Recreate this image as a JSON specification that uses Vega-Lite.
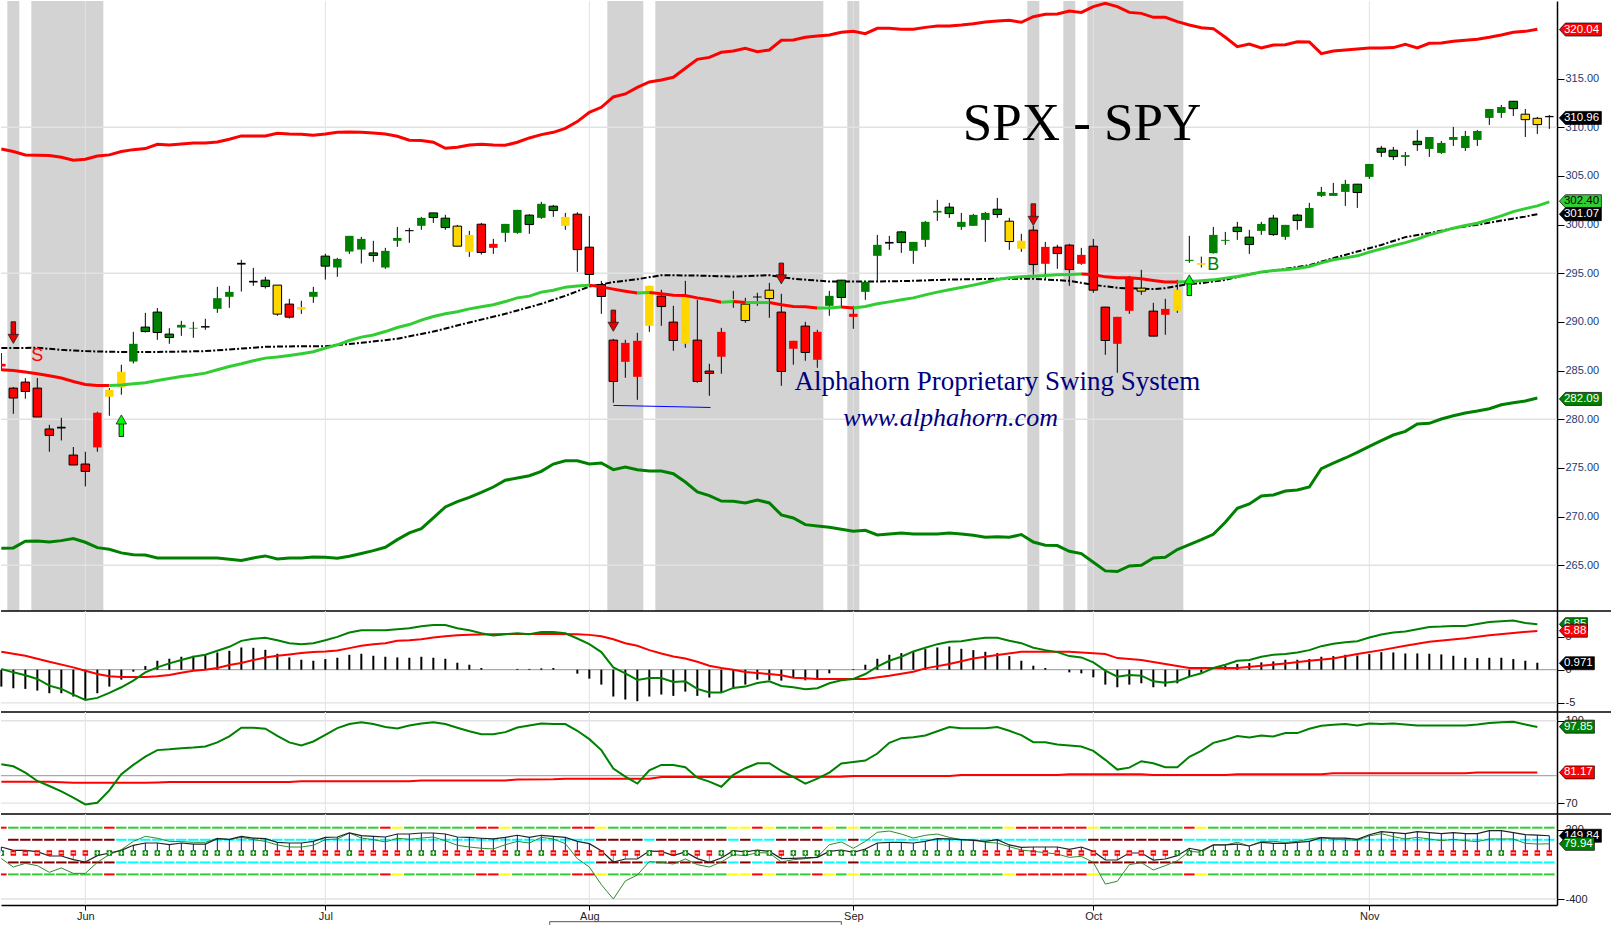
{"$schema":"https://vega.github.io/schema/vega-lite/v6.json","padding":0,"autosize":{"type":"pad"},"background":"white","bounds":"flush","spacing":0,
"config":{"view":{"stroke":null},"text":{"font":"Liberation Sans"},"axis":{"labelFont":"Liberation Sans"}},
"datasets":{
"months":[{"i":7},{"i":27},{"i":49},{"i":71},{"i":91},{"i":114}],
"bands":[{"i":0.5,"i2":1.5},{"i":2.5,"i2":8.5},{"i":50.5,"i2":53.5},{"i":54.5,"i2":68.5},{"i":70.5,"i2":71.5},{"i":85.5,"i2":86.5},{"i":88.5,"i2":89.5},{"i":90.5,"i2":98.5}],
"tags":[{"p":"a","i":129.84,"tx":130.22,"v":320.04,"label":"320.04","kind":"red","w":"6"},{"p":"a","i":129.84,"tx":130.22,"v":310.96,"label":"310.96","kind":"black","w":"6"},{"p":"a","i":129.84,"tx":130.22,"v":302.4,"label":"302.40","kind":"lime","w":"6"},{"p":"a","i":129.84,"tx":130.22,"v":301.07,"label":"301.07","kind":"black","w":"6"},{"p":"a","i":129.84,"tx":130.22,"v":282.09,"label":"282.09","kind":"green","w":"6"},{"p":"b1","i":129.84,"tx":130.22,"v":6.85,"label":"6.85","kind":"green","w":"4"},{"p":"b2","i":129.84,"tx":130.22,"v":5.88,"label":"5.88","kind":"red","w":"4"},{"p":"b2","i":129.84,"tx":130.22,"v":0.971,"label":"0.971","kind":"black","w":"5"},{"p":"c","i":129.84,"tx":130.22,"v":97.85,"label":"97.85","kind":"green","w":"5"},{"p":"c","i":129.84,"tx":130.22,"v":81.17,"label":"81.17","kind":"red","w":"5"},{"p":"d1","i":129.84,"tx":130.22,"v":149.84,"label":"149.84","kind":"black","w":"6"},{"p":"d2","i":129.84,"tx":130.22,"v":79.94,"label":"79.94","kind":"green","w":"5"}],
"arrows":[{"i":1,"tail":290.01,"head":288.26,"dir":"down"},{"i":51,"tail":291.21,"head":289.5,"dir":"down"},{"i":65,"tail":296.04,"head":294.37,"dir":"down"},{"i":86,"tail":302.13,"head":300.38,"dir":"down"},{"i":10,"tail":278.23,"head":279.98,"dir":"up"},{"i":99,"tail":292.71,"head":294.37,"dir":"up"}],
"candles":[
{"i":0,"t":285.7,"b":285.42,"h":286.8,"l":284.98,"c":"r","e":"n","u":307.77,"d":266.74},
{"i":1,"t":283.2,"b":282.18,"h":283.31,"l":280.56,"c":"r","e":"y","u":307.5,"d":266.78},
{"i":2,"t":283.82,"b":282.85,"h":284.23,"l":282.11,"c":"r","e":"y","u":307.16,"d":267.46},
{"i":3,"t":283.2,"b":280.23,"h":284.23,"l":280.23,"c":"r","e":"y","u":307.12,"d":267.5},
{"i":4,"t":279.0,"b":278.34,"h":279.43,"l":276.66,"c":"r","e":"y","u":307.09,"d":267.39},
{"i":5,"t":279.23,"b":279.05,"h":280.15,"l":277.82,"c":"k","e":"n","u":306.92,"d":267.53},
{"i":6,"t":276.32,"b":275.3,"h":277.15,"l":275.3,"c":"r","e":"y","u":306.61,"d":267.74},
{"i":7,"t":275.4,"b":274.64,"h":276.66,"l":273.1,"c":"r","e":"y","u":306.71,"d":267.36},
{"i":8,"t":280.67,"b":277.11,"h":280.77,"l":276.66,"c":"r","e":"n","u":307.05,"d":266.81},
{"i":9,"t":283.03,"b":282.31,"h":283.2,"l":280.36,"c":"y","e":"n","u":307.16,"d":266.64},
{"i":10,"t":284.88,"b":283.27,"h":285.6,"l":282.52,"c":"y","e":"n","u":307.5,"d":266.27},
{"i":11,"t":287.75,"b":285.93,"h":288.98,"l":285.73,"c":"g","e":"n","u":307.7,"d":266.09},
{"i":12,"t":289.47,"b":289.01,"h":290.93,"l":288.91,"c":"g","e":"y","u":307.81,"d":266.06},
{"i":13,"t":291.01,"b":288.91,"h":291.42,"l":288.16,"c":"g","e":"y","u":308.25,"d":265.75},
{"i":14,"t":288.75,"b":288.4,"h":289.36,"l":287.75,"c":"g","e":"y","u":308.18,"d":265.75},
{"i":15,"t":289.7,"b":289.42,"h":290.11,"l":288.57,"c":"g","e":"n","u":308.29,"d":265.75},
{"i":16,"t":289.39,"b":289.32,"h":290.01,"l":288.37,"c":"g","e":"n","u":308.39,"d":265.75},
{"i":17,"t":289.57,"b":289.42,"h":290.32,"l":289.19,"c":"k","e":"n","u":308.39,"d":265.75},
{"i":18,"t":292.44,"b":291.34,"h":293.6,"l":290.93,"c":"g","e":"n","u":308.49,"d":265.75},
{"i":19,"t":293.09,"b":292.58,"h":293.71,"l":291.45,"c":"g","e":"n","u":308.77,"d":265.62},
{"i":20,"t":296.07,"b":295.89,"h":296.38,"l":293.12,"c":"k","e":"n","u":309.11,"d":265.48},
{"i":21,"t":294.22,"b":294.05,"h":295.55,"l":293.71,"c":"k","e":"n","u":309.11,"d":265.75},
{"i":22,"t":294.29,"b":293.63,"h":294.63,"l":293.43,"c":"g","e":"y","u":309.11,"d":265.96},
{"i":23,"t":293.78,"b":290.8,"h":293.78,"l":290.63,"c":"y","e":"y","u":309.38,"d":265.65},
{"i":24,"t":291.83,"b":290.49,"h":292.37,"l":290.35,"c":"r","e":"y","u":309.31,"d":265.75},
{"i":25,"t":291.52,"b":291.27,"h":292.17,"l":290.83,"c":"y","e":"n","u":309.28,"d":265.75},
{"i":26,"t":293.09,"b":292.58,"h":293.6,"l":291.96,"c":"g","e":"n","u":309.18,"d":265.85},
{"i":27,"t":296.76,"b":295.73,"h":297.0,"l":294.35,"c":"g","e":"y","u":309.31,"d":265.82},
{"i":28,"t":296.48,"b":295.59,"h":296.58,"l":294.63,"c":"g","e":"n","u":309.48,"d":265.72},
{"i":29,"t":298.84,"b":297.23,"h":298.84,"l":296.99,"c":"g","e":"n","u":309.52,"d":265.92},
{"i":30,"t":298.53,"b":297.43,"h":298.74,"l":296.0,"c":"g","e":"n","u":309.48,"d":266.2},
{"i":31,"t":297.09,"b":296.82,"h":298.33,"l":296.17,"c":"g","e":"y","u":309.42,"d":266.5},
{"i":32,"t":297.3,"b":295.59,"h":297.61,"l":295.45,"c":"g","e":"n","u":309.31,"d":266.85},
{"i":33,"t":298.63,"b":298.33,"h":299.76,"l":297.71,"c":"g","e":"n","u":309.07,"d":267.63},
{"i":34,"t":299.43,"b":299.32,"h":299.66,"l":298.12,"c":"k","e":"n","u":308.66,"d":268.32},
{"i":35,"t":300.69,"b":299.87,"h":300.79,"l":299.46,"c":"g","e":"n","u":308.63,"d":268.76},
{"i":36,"t":301.2,"b":300.72,"h":301.2,"l":300.17,"c":"g","e":"y","u":308.46,"d":269.86},
{"i":37,"t":300.66,"b":299.69,"h":301.0,"l":299.46,"c":"g","e":"y","u":307.84,"d":270.99},
{"i":38,"t":299.84,"b":297.78,"h":299.97,"l":297.78,"c":"y","e":"y","u":307.94,"d":271.54},
{"i":39,"t":298.94,"b":297.2,"h":299.35,"l":296.68,"c":"y","e":"n","u":308.18,"d":271.98},
{"i":40,"t":300.04,"b":297.13,"h":300.17,"l":296.92,"c":"r","e":"y","u":308.25,"d":272.49},
{"i":41,"t":298.02,"b":297.61,"h":298.53,"l":296.99,"c":"r","e":"n","u":308.18,"d":273.04},
{"i":42,"t":300.07,"b":299.15,"h":300.07,"l":298.22,"c":"g","e":"n","u":308.15,"d":273.73},
{"i":43,"t":301.51,"b":299.15,"h":301.51,"l":299.05,"c":"g","e":"n","u":308.46,"d":273.97},
{"i":44,"t":300.97,"b":300.0,"h":301.07,"l":299.05,"c":"g","e":"y","u":308.9,"d":274.2},
{"i":45,"t":302.13,"b":300.69,"h":302.33,"l":300.59,"c":"g","e":"n","u":309.24,"d":274.65},
{"i":46,"t":301.89,"b":301.44,"h":302.02,"l":300.79,"c":"g","e":"y","u":309.48,"d":275.4},
{"i":47,"t":300.79,"b":299.87,"h":301.2,"l":299.46,"c":"y","e":"n","u":309.89,"d":275.74},
{"i":48,"t":301.07,"b":297.43,"h":301.27,"l":295.14,"c":"r","e":"y","u":310.58,"d":275.74},
{"i":49,"t":297.68,"b":294.87,"h":300.89,"l":293.91,"c":"r","e":"y","u":311.54,"d":275.4},
{"i":50,"t":293.84,"b":292.61,"h":294.22,"l":290.83,"c":"r","e":"y","u":312.05,"d":275.5},
{"i":51,"t":288.13,"b":283.88,"h":288.26,"l":281.69,"c":"r","e":"y","u":313.11,"d":274.82},
{"i":52,"t":287.85,"b":285.9,"h":288.16,"l":284.26,"c":"r","e":"n","u":313.42,"d":275.09},
{"i":53,"t":288.06,"b":284.36,"h":288.88,"l":282.0,"c":"r","e":"n","u":314.1,"d":274.82},
{"i":54,"t":293.71,"b":289.6,"h":293.71,"l":288.98,"c":"y","e":"n","u":314.65,"d":274.68},
{"i":55,"t":292.65,"b":291.58,"h":293.3,"l":289.6,"c":"r","e":"y","u":314.86,"d":274.68},
{"i":56,"t":289.98,"b":288.09,"h":291.65,"l":287.03,"c":"r","e":"y","u":315.13,"d":274.41},
{"i":57,"t":292.58,"b":287.75,"h":294.22,"l":287.34,"c":"y","e":"n","u":316.06,"d":273.55},
{"i":58,"t":288.13,"b":283.88,"h":292.27,"l":283.75,"c":"r","e":"y","u":316.98,"d":272.53},
{"i":59,"t":284.95,"b":284.7,"h":285.7,"l":282.41,"c":"r","e":"y","u":317.18,"d":272.15},
{"i":60,"t":288.98,"b":286.42,"h":289.39,"l":284.67,"c":"r","e":"n","u":317.7,"d":271.6},
{"i":61,"t":292.34,"b":292.17,"h":293.19,"l":291.45,"c":"y","e":"n","u":317.83,"d":271.57},
{"i":62,"t":291.83,"b":290.14,"h":292.47,"l":289.91,"c":"y","e":"y","u":318.11,"d":271.4},
{"i":63,"t":292.61,"b":292.51,"h":292.99,"l":291.65,"c":"k","e":"n","u":317.77,"d":271.71},
{"i":64,"t":293.26,"b":292.4,"h":294.01,"l":290.42,"c":"y","e":"y","u":317.94,"d":271.4},
{"i":65,"t":291.01,"b":284.91,"h":292.89,"l":283.44,"c":"r","e":"y","u":318.93,"d":270.17},
{"i":66,"t":288.06,"b":287.24,"h":288.06,"l":285.6,"c":"r","e":"n","u":318.96,"d":269.86},
{"i":67,"t":289.57,"b":286.86,"h":290.01,"l":286.01,"c":"r","e":"y","u":319.24,"d":269.17},
{"i":68,"t":288.98,"b":286.11,"h":289.19,"l":285.29,"c":"r","e":"n","u":319.37,"d":269.04},
{"i":69,"t":292.68,"b":291.65,"h":293.19,"l":290.63,"c":"g","e":"n","u":319.48,"d":268.9},
{"i":70,"t":294.29,"b":292.51,"h":294.32,"l":291.45,"c":"g","e":"y","u":319.75,"d":268.7},
{"i":71,"t":290.83,"b":290.52,"h":291.65,"l":289.29,"c":"r","e":"n","u":319.85,"d":268.49},
{"i":72,"t":294.12,"b":293.09,"h":294.12,"l":292.27,"c":"g","e":"n","u":319.61,"d":268.59},
{"i":73,"t":297.92,"b":296.79,"h":298.94,"l":294.12,"c":"g","e":"n","u":320.16,"d":268.11},
{"i":74,"t":298.22,"b":298.05,"h":298.84,"l":297.4,"c":"k","e":"n","u":320.16,"d":268.22},
{"i":75,"t":299.25,"b":298.15,"h":299.35,"l":297.09,"c":"g","e":"y","u":320.06,"d":268.32},
{"i":76,"t":298.22,"b":297.3,"h":298.22,"l":295.97,"c":"g","e":"n","u":320.06,"d":268.22},
{"i":77,"t":300.28,"b":298.43,"h":300.38,"l":297.71,"c":"g","e":"n","u":320.26,"d":268.22},
{"i":78,"t":301.41,"b":301.23,"h":302.54,"l":300.38,"c":"g","e":"n","u":320.4,"d":268.22},
{"i":79,"t":301.79,"b":301.13,"h":302.23,"l":300.69,"c":"g","e":"y","u":320.4,"d":268.32},
{"i":80,"t":300.28,"b":299.76,"h":301.2,"l":299.46,"c":"g","e":"n","u":320.5,"d":268.22},
{"i":81,"t":301.0,"b":299.87,"h":301.1,"l":299.87,"c":"g","e":"n","u":320.64,"d":268.08},
{"i":82,"t":301.2,"b":300.48,"h":301.3,"l":298.22,"c":"g","e":"n","u":320.81,"d":267.87},
{"i":83,"t":301.58,"b":301.03,"h":302.74,"l":300.69,"c":"g","e":"y","u":320.91,"d":267.94},
{"i":84,"t":300.35,"b":298.26,"h":300.69,"l":297.4,"c":"y","e":"y","u":320.98,"d":267.87},
{"i":85,"t":298.33,"b":297.51,"h":299.05,"l":297.2,"c":"y","e":"n","u":320.78,"d":268.15},
{"i":86,"t":299.43,"b":295.89,"h":299.87,"l":294.84,"c":"r","e":"y","u":321.36,"d":267.39},
{"i":87,"t":297.71,"b":295.97,"h":298.22,"l":294.32,"c":"r","e":"n","u":321.6,"d":267.05},
{"i":88,"t":297.68,"b":297.02,"h":297.92,"l":295.45,"c":"r","e":"y","u":321.63,"d":267.02},
{"i":89,"t":297.89,"b":295.38,"h":298.02,"l":293.71,"c":"r","e":"y","u":321.94,"d":266.44},
{"i":90,"t":296.89,"b":295.97,"h":297.61,"l":295.86,"c":"r","e":"n","u":321.8,"d":266.2},
{"i":91,"t":297.78,"b":293.26,"h":298.53,"l":292.99,"c":"r","e":"y","u":322.39,"d":265.31},
{"i":92,"t":291.52,"b":288.09,"h":291.55,"l":286.62,"c":"r","e":"y","u":322.73,"d":264.42},
{"i":93,"t":290.52,"b":287.75,"h":290.52,"l":284.77,"c":"r","e":"n","u":322.39,"d":264.35},
{"i":94,"t":294.5,"b":291.14,"h":294.73,"l":290.83,"c":"r","e":"n","u":321.8,"d":264.93},
{"i":95,"t":293.47,"b":293.16,"h":295.35,"l":292.78,"c":"y","e":"y","u":321.7,"d":265.0},
{"i":96,"t":291.11,"b":288.54,"h":291.96,"l":288.54,"c":"r","e":"y","u":321.29,"d":265.75},
{"i":97,"t":291.34,"b":290.73,"h":292.37,"l":288.68,"c":"r","e":"n","u":321.29,"d":265.82},
{"i":98,"t":293.3,"b":291.14,"h":294.32,"l":290.93,"c":"y","e":"n","u":320.85,"d":266.61},
{"i":99,"t":296.38,"b":296.27,"h":298.84,"l":296.07,"c":"g","e":"n","u":320.5,"d":267.12},
{"i":100,"t":296.04,"b":295.87,"h":296.71,"l":295.59,"c":"y","e":"n","u":320.23,"d":267.63},
{"i":101,"t":298.94,"b":297.06,"h":299.76,"l":297.02,"c":"g","e":"n","u":320.13,"d":268.18},
{"i":102,"t":298.43,"b":298.33,"h":299.25,"l":297.92,"c":"g","e":"n","u":319.24,"d":269.41},
{"i":103,"t":299.73,"b":299.28,"h":300.28,"l":298.43,"c":"g","e":"y","u":318.28,"d":270.85},
{"i":104,"t":298.71,"b":297.95,"h":299.46,"l":296.99,"c":"g","e":"y","u":318.55,"d":271.3},
{"i":105,"t":300.07,"b":299.35,"h":300.28,"l":298.94,"c":"g","e":"n","u":318.14,"d":272.12},
{"i":106,"t":300.66,"b":298.97,"h":301.0,"l":298.84,"c":"g","e":"y","u":318.45,"d":272.22},
{"i":107,"t":299.97,"b":298.74,"h":299.97,"l":298.43,"c":"g","e":"n","u":318.48,"d":272.63},
{"i":108,"t":300.97,"b":300.41,"h":301.1,"l":299.46,"c":"g","e":"y","u":318.79,"d":272.73},
{"i":109,"t":301.71,"b":299.66,"h":302.23,"l":299.66,"c":"g","e":"n","u":318.76,"d":273.04},
{"i":110,"t":303.36,"b":302.95,"h":303.87,"l":302.84,"c":"g","e":"n","u":317.56,"d":274.92},
{"i":111,"t":303.25,"b":302.95,"h":304.28,"l":302.95,"c":"g","e":"n","u":317.83,"d":275.5},
{"i":112,"t":304.18,"b":303.36,"h":304.59,"l":301.92,"c":"g","e":"n","u":317.94,"d":276.02},
{"i":113,"t":304.15,"b":303.29,"h":304.18,"l":301.71,"c":"g","e":"y","u":318.04,"d":276.6},
{"i":114,"t":306.23,"b":304.9,"h":306.23,"l":304.69,"c":"g","e":"n","u":318.14,"d":277.22},
{"i":115,"t":307.84,"b":307.43,"h":308.08,"l":306.95,"c":"g","e":"y","u":318.14,"d":277.8},
{"i":116,"t":307.64,"b":306.98,"h":307.98,"l":306.64,"c":"g","e":"y","u":318.18,"d":278.38},
{"i":117,"t":307.13,"b":306.95,"h":307.46,"l":306.03,"c":"g","e":"n","u":318.52,"d":278.76},
{"i":118,"t":308.56,"b":308.21,"h":309.72,"l":307.57,"c":"g","e":"y","u":318.14,"d":279.51},
{"i":119,"t":309.0,"b":307.77,"h":309.0,"l":306.95,"c":"g","e":"n","u":318.62,"d":279.58},
{"i":120,"t":308.39,"b":307.36,"h":308.59,"l":307.26,"c":"g","e":"n","u":318.66,"d":280.02},
{"i":121,"t":309.0,"b":308.7,"h":310.03,"l":308.08,"c":"g","e":"n","u":318.83,"d":280.36},
{"i":122,"t":309.11,"b":307.87,"h":309.62,"l":307.57,"c":"g","e":"n","u":318.93,"d":280.64},
{"i":123,"t":309.62,"b":308.7,"h":309.72,"l":308.08,"c":"g","e":"n","u":319.03,"d":280.84},
{"i":124,"t":311.88,"b":310.96,"h":311.88,"l":310.24,"c":"g","e":"n","u":319.24,"d":281.08},
{"i":125,"t":312.08,"b":311.47,"h":312.29,"l":310.96,"c":"g","e":"n","u":319.48,"d":281.49},
{"i":126,"t":312.67,"b":311.91,"h":312.7,"l":311.16,"c":"g","e":"y","u":319.75,"d":281.7},
{"i":127,"t":311.34,"b":310.78,"h":311.88,"l":309.0,"c":"y","e":"y","u":319.85,"d":281.87},
{"i":128,"t":310.92,"b":310.27,"h":311.06,"l":309.31,"c":"y","e":"y","u":320.06,"d":282.18},
{"i":129,"t":311.16,"b":311.03,"h":311.26,"l":309.83,"c":"k","e":"n"}],
"ema":[
{"i":0,"v":285.08,"s":1,"t":"down"},{"i":1,"v":285.01,"s":1,"t":"down"},{"i":2,"v":284.85,"s":1,"t":"down"},{"i":3,"v":284.67,"s":1,"t":"down"},{"i":4,"v":284.47,"s":1,"t":"down"},{"i":5,"v":284.23,"s":1,"t":"down"},{"i":6,"v":283.88,"s":1,"t":"down"},{"i":7,"v":283.57,"s":1,"t":"down"},{"i":8,"v":283.47,"s":1,"t":"down"},{"i":9,"v":283.47,"s":1,"t":"down"},
{"i":9,"v":283.47,"s":2,"t":"up"},{"i":10,"v":283.51,"s":2,"t":"up"},{"i":11,"v":283.64,"s":2,"t":"up"},{"i":12,"v":283.75,"s":2,"t":"up"},{"i":13,"v":283.98,"s":2,"t":"up"},{"i":14,"v":284.19,"s":2,"t":"up"},{"i":15,"v":284.39,"s":2,"t":"up"},{"i":16,"v":284.54,"s":2,"t":"up"},{"i":17,"v":284.74,"s":2,"t":"up"},{"i":18,"v":285.08,"s":2,"t":"up"},{"i":19,"v":285.42,"s":2,"t":"up"},{"i":20,"v":285.7,"s":2,"t":"up"},{"i":21,"v":286.01,"s":2,"t":"up"},{"i":22,"v":286.28,"s":2,"t":"up"},{"i":23,"v":286.39,"s":2,"t":"up"},{"i":24,"v":286.55,"s":2,"t":"up"},{"i":25,"v":286.73,"s":2,"t":"up"},{"i":26,"v":286.93,"s":2,"t":"up"},{"i":27,"v":287.31,"s":2,"t":"up"},{"i":28,"v":287.65,"s":2,"t":"up"},{"i":29,"v":288.09,"s":2,"t":"up"},{"i":30,"v":288.44,"s":2,"t":"up"},{"i":31,"v":288.65,"s":2,"t":"up"},{"i":32,"v":289.01,"s":2,"t":"up"},{"i":33,"v":289.42,"s":2,"t":"up"},{"i":34,"v":289.73,"s":2,"t":"up"},{"i":35,"v":290.18,"s":2,"t":"up"},{"i":36,"v":290.55,"s":2,"t":"up"},{"i":37,"v":290.83,"s":2,"t":"up"},{"i":38,"v":291.04,"s":2,"t":"up"},{"i":39,"v":291.34,"s":2,"t":"up"},{"i":40,"v":291.55,"s":2,"t":"up"},{"i":41,"v":291.76,"s":2,"t":"up"},{"i":42,"v":292.09,"s":2,"t":"up"},{"i":43,"v":292.47,"s":2,"t":"up"},{"i":44,"v":292.65,"s":2,"t":"up"},{"i":45,"v":293.06,"s":2,"t":"up"},{"i":46,"v":293.26,"s":2,"t":"up"},{"i":47,"v":293.57,"s":2,"t":"up"},{"i":48,"v":293.68,"s":2,"t":"up"},{"i":49,"v":293.78,"s":2,"t":"up"},
{"i":49,"v":293.78,"s":3,"t":"down"},{"i":50,"v":293.6,"s":3,"t":"down"},{"i":51,"v":293.37,"s":3,"t":"down"},{"i":52,"v":293.16,"s":3,"t":"down"},{"i":53,"v":292.96,"s":3,"t":"down"},
{"i":53,"v":292.96,"s":4,"t":"up"},{"i":54,"v":293.02,"s":4,"t":"up"},
{"i":54,"v":293.02,"s":5,"t":"down"},{"i":55,"v":292.89,"s":5,"t":"down"},{"i":56,"v":292.75,"s":5,"t":"down"},{"i":57,"v":292.71,"s":5,"t":"down"},{"i":58,"v":292.47,"s":5,"t":"down"},{"i":59,"v":292.27,"s":5,"t":"down"},{"i":60,"v":292.03,"s":5,"t":"down"},
{"i":60,"v":292.03,"s":6,"t":"up"},{"i":61,"v":292.09,"s":6,"t":"up"},
{"i":61,"v":292.09,"s":7,"t":"down"},{"i":62,"v":291.99,"s":7,"t":"down"},
{"i":62,"v":291.99,"s":8,"t":"up"},{"i":63,"v":291.99,"s":8,"t":"up"},{"i":64,"v":291.99,"s":8,"t":"up"},
{"i":64,"v":291.99,"s":9,"t":"down"},{"i":65,"v":291.76,"s":9,"t":"down"},{"i":66,"v":291.58,"s":9,"t":"down"},{"i":67,"v":291.55,"s":9,"t":"down"},{"i":68,"v":291.42,"s":9,"t":"down"},
{"i":68,"v":291.42,"s":10,"t":"up"},{"i":69,"v":291.42,"s":10,"t":"up"},{"i":70,"v":291.52,"s":10,"t":"up"},
{"i":70,"v":291.52,"s":11,"t":"down"},{"i":71,"v":291.42,"s":11,"t":"down"},
{"i":71,"v":291.42,"s":12,"t":"up"},{"i":72,"v":291.58,"s":12,"t":"up"},{"i":73,"v":291.86,"s":12,"t":"up"},{"i":74,"v":292.06,"s":12,"t":"up"},{"i":75,"v":292.27,"s":12,"t":"up"},{"i":76,"v":292.47,"s":12,"t":"up"},{"i":77,"v":292.78,"s":12,"t":"up"},{"i":78,"v":293.06,"s":12,"t":"up"},{"i":79,"v":293.3,"s":12,"t":"up"},{"i":80,"v":293.53,"s":12,"t":"up"},{"i":81,"v":293.78,"s":12,"t":"up"},{"i":82,"v":294.05,"s":12,"t":"up"},{"i":83,"v":294.35,"s":12,"t":"up"},{"i":84,"v":294.53,"s":12,"t":"up"},{"i":85,"v":294.63,"s":12,"t":"up"},{"i":86,"v":294.7,"s":12,"t":"up"},{"i":87,"v":294.76,"s":12,"t":"up"},{"i":88,"v":294.84,"s":12,"t":"up"},{"i":89,"v":294.87,"s":12,"t":"up"},{"i":90,"v":294.91,"s":12,"t":"up"},
{"i":90,"v":294.91,"s":13,"t":"down"},{"i":91,"v":294.87,"s":13,"t":"down"},{"i":92,"v":294.63,"s":13,"t":"down"},{"i":93,"v":294.53,"s":13,"t":"down"},{"i":94,"v":294.53,"s":13,"t":"down"},{"i":95,"v":294.43,"s":13,"t":"down"},{"i":96,"v":294.25,"s":13,"t":"down"},{"i":97,"v":294.09,"s":13,"t":"down"},{"i":98,"v":294.09,"s":13,"t":"down"},
{"i":98,"v":294.09,"s":14,"t":"up"},{"i":99,"v":294.14,"s":14,"t":"up"},{"i":100,"v":294.22,"s":14,"t":"up"},{"i":101,"v":294.32,"s":14,"t":"up"},{"i":102,"v":294.5,"s":14,"t":"up"},{"i":103,"v":294.66,"s":14,"t":"up"},{"i":104,"v":294.87,"s":14,"t":"up"},{"i":105,"v":295.14,"s":14,"t":"up"},{"i":106,"v":295.28,"s":14,"t":"up"},{"i":107,"v":295.35,"s":14,"t":"up"},{"i":108,"v":295.48,"s":14,"t":"up"},{"i":109,"v":295.69,"s":14,"t":"up"},{"i":110,"v":296.07,"s":14,"t":"up"},{"i":111,"v":296.38,"s":14,"t":"up"},{"i":112,"v":296.58,"s":14,"t":"up"},{"i":113,"v":296.79,"s":14,"t":"up"},{"i":114,"v":297.17,"s":14,"t":"up"},{"i":115,"v":297.5,"s":14,"t":"up"},{"i":116,"v":297.84,"s":14,"t":"up"},{"i":117,"v":298.15,"s":14,"t":"up"},{"i":118,"v":298.5,"s":14,"t":"up"},{"i":119,"v":298.94,"s":14,"t":"up"},{"i":120,"v":299.28,"s":14,"t":"up"},{"i":121,"v":299.63,"s":14,"t":"up"},{"i":122,"v":299.9,"s":14,"t":"up"},{"i":123,"v":300.14,"s":14,"t":"up"},{"i":124,"v":300.51,"s":14,"t":"up"},{"i":125,"v":300.89,"s":14,"t":"up"},{"i":126,"v":301.33,"s":14,"t":"up"},{"i":127,"v":301.64,"s":14,"t":"up"},{"i":128,"v":301.92,"s":14,"t":"up"},{"i":129,"v":302.33,"s":14,"t":"up"}],
"ma":[{"i":0,"v":287.31},{"i":3,"v":287.34},{"i":5,"v":287.13},{"i":7,"v":287.0},{"i":9,"v":286.93},{"i":11,"v":286.9},{"i":14,"v":286.93},{"i":17,"v":287.0},{"i":19,"v":287.17},{"i":22,"v":287.44},{"i":25,"v":287.51},{"i":27,"v":287.51},{"i":30,"v":287.85},{"i":33,"v":288.27},{"i":36,"v":289.01},{"i":39,"v":289.94},{"i":42,"v":290.83},{"i":45,"v":291.86},{"i":47,"v":292.68},{"i":49,"v":293.63},{"i":51,"v":294.09},{"i":53,"v":294.39},{"i":55,"v":294.8},{"i":58,"v":294.76},{"i":61,"v":294.66},{"i":64,"v":294.8},{"i":66,"v":294.43},{"i":69,"v":294.15},{"i":71,"v":294.15},{"i":73,"v":294.15},{"i":76,"v":294.22},{"i":79,"v":294.35},{"i":83,"v":294.43},{"i":86,"v":294.43},{"i":89,"v":294.22},{"i":91,"v":293.81},{"i":93,"v":293.5},{"i":96,"v":293.37},{"i":97,"v":293.47},{"i":99,"v":293.91},{"i":100,"v":293.98},{"i":102,"v":294.32},{"i":104,"v":294.91},{"i":107,"v":295.45},{"i":109,"v":295.83},{"i":111,"v":296.55},{"i":113,"v":297.23},{"i":115,"v":297.91},{"i":117,"v":298.71},{"i":119,"v":299.12},{"i":121,"v":299.63},{"i":123,"v":299.97},{"i":125,"v":300.41},{"i":127,"v":300.82},{"i":128,"v":301.07}],
"sig":[{"i":0,"v":2.7},{"i":2,"v":2.1},{"i":4,"v":1.2},{"i":6,"v":0.35},{"i":7,"v":-0.15},{"i":8,"v":-0.65},{"i":9,"v":-1.0},{"i":10,"v":-1.1},{"i":12,"v":-1.1},{"i":13,"v":-1.0},{"i":14,"v":-0.8},{"i":15,"v":-0.45},{"i":16,"v":-0.15},{"i":17,"v":0},{"i":18,"v":0.25},{"i":19,"v":0.7},{"i":20,"v":1.0},{"i":21,"v":1.45},{"i":22,"v":1.85},{"i":23,"v":2.1},{"i":24,"v":2.3},{"i":25,"v":2.5},{"i":26,"v":2.65},{"i":27,"v":2.75},{"i":28,"v":2.9},{"i":29,"v":3.25},{"i":30,"v":3.6},{"i":31,"v":3.85},{"i":32,"v":4.0},{"i":33,"v":4.35},{"i":34,"v":4.45},{"i":35,"v":4.6},{"i":36,"v":4.85},{"i":37,"v":5.05},{"i":38,"v":5.2},{"i":39,"v":5.25},{"i":40,"v":5.3},{"i":41,"v":5.35},{"i":43,"v":5.4},{"i":46,"v":5.4},{"i":48,"v":5.35},{"i":49,"v":5.25},{"i":50,"v":5.05},{"i":51,"v":4.6},{"i":52,"v":4.0},{"i":53,"v":3.6},{"i":54,"v":2.95},{"i":55,"v":2.45},{"i":56,"v":2.0},{"i":57,"v":1.7},{"i":58,"v":1.2},{"i":59,"v":0.6},{"i":60,"v":0.25},{"i":61,"v":0},{"i":62,"v":-0.35},{"i":63,"v":-0.5},{"i":64,"v":-0.65},{"i":65,"v":-0.85},{"i":66,"v":-1.2},{"i":67,"v":-1.3},{"i":68,"v":-1.4},{"i":70,"v":-1.4},{"i":72,"v":-1.4},{"i":74,"v":-0.9},{"i":76,"v":-0.3},{"i":77,"v":0.2},{"i":79,"v":0.85},{"i":81,"v":1.7},{"i":83,"v":2.2},{"i":85,"v":2.7},{"i":89,"v":2.7},{"i":92,"v":2.35},{"i":93,"v":1.75},{"i":95,"v":1.45},{"i":97,"v":0.85},{"i":99,"v":0.25},{"i":101,"v":0.25},{"i":103,"v":0.25},{"i":105,"v":0.6},{"i":107,"v":0.95},{"i":109,"v":1.35},{"i":111,"v":1.7},{"i":113,"v":2.35},{"i":115,"v":2.95},{"i":117,"v":3.6},{"i":119,"v":4.2},{"i":122,"v":4.75},{"i":124,"v":5.2},{"i":126,"v":5.55},{"i":128,"v":5.85}],
"slow":[{"i":0,"v":77.75},{"i":4,"v":77.75},{"i":6,"v":77.4},{"i":12,"v":77.4},{"i":13,"v":77.5},{"i":14,"v":77.65},{"i":24,"v":77.65},{"i":25,"v":77.9},{"i":34,"v":77.9},{"i":35,"v":78.25},{"i":42,"v":78.25},{"i":43,"v":78.6},{"i":46,"v":78.65},{"i":47,"v":78.9},{"i":54,"v":78.9},{"i":55,"v":79.5},{"i":66,"v":79.5},{"i":70,"v":79.6},{"i":71,"v":79.9},{"i":79,"v":79.9},{"i":80,"v":80.25},{"i":88,"v":80.25},{"i":89,"v":80.5},{"i":95,"v":80.5},{"i":96,"v":80.25},{"i":102,"v":80.25},{"i":103,"v":80.5},{"i":110,"v":80.5},{"i":111,"v":80.85},{"i":122,"v":80.85},{"i":123,"v":81.17},{"i":128,"v":81.17}],
"osc":[
{"i":0,"h":-2.55,"m":0.1,"k":84.15,"c":52,"g":-49,"s":"g","o":"r"},
{"i":1,"h":-2.8,"m":-0.4,"k":83.41,"c":23,"g":-122,"s":"r","o":"g","n":"d"},
{"i":2,"h":-2.9,"m":-0.85,"k":81.1,"c":23,"g":-90,"s":"r","o":"g","n":"d"},
{"i":3,"h":-3.15,"m":-1.4,"k":78.05,"c":12,"g":-110,"s":"r","o":"g","n":"d"},
{"i":4,"h":-3.55,"m":-2.4,"k":76.2,"c":-26,"g":-168,"s":"r","o":"g","n":"d"},
{"i":5,"h":-3.55,"m":-2.9,"k":74.27,"c":-26,"g":-130,"s":"r","o":"g","n":"d"},
{"i":6,"h":-4.05,"m":-3.75,"k":71.95,"c":-58,"g":-177,"s":"r","o":"g","n":"d"},
{"i":7,"h":-4.45,"m":-4.55,"k":69.5,"c":-78,"g":-177,"s":"r","o":"g","n":"d"},
{"i":8,"h":-3.55,"m":-4.25,"k":70.1,"c":-23,"g":-81,"s":"g","o":"g","n":"d"},
{"i":9,"h":-2.55,"m":-3.5,"k":74.6,"c":0,"g":-14,"s":"g","o":"r","n":"d"},
{"i":10,"h":-1.5,"m":-2.65,"k":80.5,"c":23,"g":29,"s":"g","o":"g","n":"c"},
{"i":11,"h":-0.3,"m":-1.65,"k":83.9,"c":67,"g":101,"s":"g","o":"g","n":"c"},
{"i":12,"h":0.55,"m":-0.4,"k":86.95,"c":87,"g":145,"s":"g","o":"g","n":"c"},
{"i":13,"h":1.35,"m":0.35,"k":89.3,"c":87,"g":128,"s":"g","o":"g","n":"c"},
{"i":14,"h":1.65,"m":0.95,"k":89.6,"c":72,"g":101,"s":"g","o":"g","n":"c"},
{"i":15,"h":1.95,"m":1.45,"k":90.0,"c":87,"g":99,"s":"g","o":"g","n":"c"},
{"i":16,"h":2.1,"m":1.95,"k":90.25,"c":78,"g":93,"s":"g","o":"g","n":"c"},
{"i":17,"h":2.3,"m":2.25,"k":90.6,"c":78,"g":93,"s":"g","o":"g","n":"c"},
{"i":18,"h":2.6,"m":2.85,"k":92.1,"c":125,"g":128,"s":"g","o":"g","n":"c"},
{"i":19,"h":2.85,"m":3.45,"k":94.3,"c":119,"g":116,"s":"g","o":"g","n":"c"},
{"i":20,"h":3.35,"m":4.35,"k":97.45,"c":145,"g":136,"s":"g","o":"g","n":"c"},
{"i":21,"h":3.3,"m":4.65,"k":97.45,"c":130,"g":116,"s":"g","o":"g","n":"c"},
{"i":22,"h":3.0,"m":4.8,"k":97.1,"c":125,"g":101,"s":"g","o":"g","n":"c"},
{"i":23,"h":2.4,"m":4.45,"k":94.5,"c":93,"g":70,"s":"r","o":"g","n":"c"},
{"i":24,"h":1.85,"m":4.0,"k":92.1,"c":87,"g":52,"s":"r","o":"g","n":"c"},
{"i":25,"h":1.5,"m":3.85,"k":91.0,"c":87,"g":52,"s":"r","o":"g","n":"c"},
{"i":26,"h":1.35,"m":4.0,"k":92.45,"c":101,"g":67,"s":"r","o":"g","n":"c"},
{"i":27,"h":1.6,"m":4.45,"k":94.9,"c":136,"g":116,"s":"r","o":"g","n":"c"},
{"i":28,"h":1.8,"m":4.95,"k":97.3,"c":139,"g":122,"s":"r","o":"g","n":"c"},
{"i":29,"h":2.25,"m":5.6,"k":98.8,"c":174,"g":174,"s":"g","o":"g","n":"c"},
{"i":30,"h":2.4,"m":5.95,"k":99.5,"c":151,"g":130,"s":"r","o":"g","n":"c"},
{"i":31,"h":2.1,"m":5.95,"k":98.8,"c":145,"g":116,"s":"r","o":"g","n":"c"},
{"i":32,"h":1.95,"m":5.95,"k":97.7,"c":139,"g":96,"s":"r","o":"r","n":"c"},
{"i":33,"h":1.85,"m":6.1,"k":97.2,"c":165,"g":128,"s":"r","o":"y","n":"c"},
{"i":34,"h":1.8,"m":6.25,"k":98.3,"c":165,"g":119,"s":"g","o":"g","n":"c"},
{"i":35,"h":1.95,"m":6.55,"k":99.0,"c":174,"g":130,"s":"g","o":"g","n":"c"},
{"i":36,"h":1.8,"m":6.75,"k":99.5,"c":174,"g":139,"s":"g","o":"g","n":"c"},
{"i":37,"h":1.65,"m":6.75,"k":98.8,"c":165,"g":107,"s":"r","o":"g","n":"c"},
{"i":38,"h":1.05,"m":6.25,"k":97.45,"c":139,"g":67,"s":"r","o":"g","n":"c"},
{"i":39,"h":0.75,"m":5.95,"k":96.2,"c":136,"g":52,"s":"r","o":"g","n":"c"},
{"i":40,"h":0.25,"m":5.5,"k":95.1,"c":128,"g":41,"s":"r","o":"r","n":"c"},
{"i":41,"h":0,"m":5.15,"k":95.1,"c":122,"g":35,"s":"r","o":"r","n":"c"},
{"i":42,"h":0,"m":5.35,"k":95.85,"c":136,"g":72,"s":"r","o":"y","n":"c"},
{"i":43,"h":0.12,"m":5.5,"k":97.55,"c":154,"g":101,"s":"g","o":"g","n":"c"},
{"i":44,"h":0.12,"m":5.35,"k":98.3,"c":136,"g":87,"s":"r","o":"g","n":"c"},
{"i":45,"h":0.2,"m":5.7,"k":99.0,"c":154,"g":136,"s":"g","o":"g","n":"c"},
{"i":46,"h":0.25,"m":5.7,"k":98.8,"c":145,"g":122,"s":"r","o":"g","n":"c"},
{"i":47,"h":0,"m":5.5,"k":98.8,"c":136,"g":81,"s":"r","o":"g","n":"c"},
{"i":48,"h":-0.6,"m":4.7,"k":96.35,"c":101,"g":-49,"s":"r","o":"r","n":"c"},
{"i":49,"h":-1.35,"m":3.85,"k":93.3,"c":81,"g":-122,"s":"r","o":"r","n":"c"},
{"i":50,"h":-2.25,"m":2.65,"k":89.3,"c":20,"g":-275,"s":"r","o":"y","n":"d"},
{"i":51,"h":-4.05,"m":0.35,"k":82.55,"c":-78,"g":-400,"s":"r","o":"g","n":"d"},
{"i":52,"h":-4.5,"m":-0.55,"k":79.65,"c":-52,"g":-243,"s":"r","o":"g","n":"d"},
{"i":53,"h":-4.75,"m":-1.55,"k":77.1,"c":-52,"g":-191,"s":"r","o":"g","n":"d"},
{"i":54,"h":-4.05,"m":-1.25,"k":81.95,"c":17,"g":-75,"s":"g","o":"g","n":"c"},
{"i":55,"h":-3.75,"m":-1.25,"k":83.9,"c":14,"g":-81,"s":"r","o":"g","n":"d"},
{"i":56,"h":-3.95,"m":-1.85,"k":83.9,"c":-23,"g":-96,"s":"r","o":"g","n":"d"},
{"i":57,"h":-3.3,"m":-1.75,"k":83.05,"c":9,"g":-52,"s":"g","o":"g","n":"d"},
{"i":58,"h":-3.95,"m":-2.9,"k":79.25,"c":-49,"g":-101,"s":"r","o":"g","n":"d"},
{"i":59,"h":-4.2,"m":-3.45,"k":77.8,"c":-81,"g":-122,"s":"r","o":"g","n":"d"},
{"i":60,"h":-3.45,"m":-3.45,"k":75.95,"c":-43,"g":-78,"s":"g","o":"g","n":"d"},
{"i":61,"h":-2.75,"m":-2.75,"k":80.25,"c":20,"g":-14,"s":"g","o":"y","n":"c"},
{"i":62,"h":-2.25,"m":-2.55,"k":82.7,"c":9,"g":-23,"s":"g","o":"y","n":"d"},
{"i":63,"h":-1.5,"m":-2.0,"k":84.5,"c":26,"g":3,"s":"g","o":"r","n":"c"},
{"i":64,"h":-1.6,"m":-1.75,"k":84.5,"c":14,"g":0,"s":"g","o":"y","n":"c"},
{"i":65,"h":-1.65,"m":-2.45,"k":81.7,"c":-49,"g":-78,"s":"r","o":"g","n":"d"},
{"i":66,"h":-1.25,"m":-2.65,"k":79.5,"c":-46,"g":-58,"s":"g","o":"g","n":"d"},
{"i":67,"h":-1.6,"m":-2.95,"k":77.05,"c":-43,"g":-49,"s":"g","o":"g","n":"d"},
{"i":68,"h":-1.4,"m":-2.8,"k":78.9,"c":-38,"g":-35,"s":"g","o":"r","n":"d"},
{"i":69,"h":-0.55,"m":-2.05,"k":81.1,"c":14,"g":72,"s":"g","o":"y","n":"c"},
{"i":70,"h":0,"m":-1.6,"k":84.4,"c":26,"g":96,"s":"g","o":"g","n":"c"},
{"i":71,"h":0.1,"m":-1.4,"k":85.0,"c":6,"g":41,"s":"g","o":"y","n":"d"},
{"i":72,"h":0.75,"m":-0.65,"k":85.5,"c":35,"g":101,"s":"g","o":"g","n":"c"},
{"i":73,"h":1.65,"m":0.45,"k":88.05,"c":87,"g":180,"s":"g","o":"g","n":"c"},
{"i":74,"h":2.25,"m":1.35,"k":91.95,"c":93,"g":191,"s":"g","o":"g","n":"c"},
{"i":75,"h":2.5,"m":1.95,"k":93.65,"c":93,"g":165,"s":"g","o":"g","n":"c"},
{"i":76,"h":2.7,"m":2.75,"k":94.0,"c":87,"g":130,"s":"g","o":"g","n":"c"},
{"i":77,"h":3.1,"m":3.3,"k":94.65,"c":101,"g":154,"s":"g","o":"g","n":"c"},
{"i":78,"h":3.35,"m":3.85,"k":96.2,"c":125,"g":165,"s":"g","o":"g","n":"c"},
{"i":79,"h":3.5,"m":4.2,"k":97.7,"c":122,"g":136,"s":"g","o":"g","n":"c"},
{"i":80,"h":3.15,"m":4.3,"k":97.3,"c":116,"g":116,"s":"g","o":"g","n":"c"},
{"i":81,"h":2.95,"m":4.6,"k":97.3,"c":110,"g":116,"s":"g","o":"g","n":"c"},
{"i":82,"h":2.7,"m":4.8,"k":97.3,"c":101,"g":93,"s":"r","o":"g","n":"c"},
{"i":83,"h":2.5,"m":4.8,"k":97.7,"c":116,"g":87,"s":"r","o":"g","n":"c"},
{"i":84,"h":2.05,"m":4.35,"k":96.35,"c":70,"g":55,"s":"r","o":"y","n":"c"},
{"i":85,"h":1.35,"m":4.0,"k":94.75,"c":49,"g":26,"s":"r","o":"r","n":"c"},
{"i":86,"h":0.6,"m":3.3,"k":92.2,"c":52,"g":14,"s":"r","o":"r","n":"c"},
{"i":87,"h":0.25,"m":2.95,"k":92.2,"c":52,"g":3,"s":"r","o":"r","n":"c"},
{"i":88,"h":0,"m":2.65,"k":91.35,"c":52,"g":-9,"s":"r","o":"r","n":"c"},
{"i":89,"h":-0.4,"m":2.05,"k":91.0,"c":32,"g":-38,"s":"r","o":"r","n":"c"},
{"i":90,"h":-0.55,"m":1.85,"k":90.6,"c":52,"g":-29,"s":"r","o":"r","n":"c"},
{"i":91,"h":-1.15,"m":1.1,"k":89.0,"c":14,"g":-81,"s":"r","o":"y","n":"d"},
{"i":92,"h":-2.25,"m":-0.15,"k":85.75,"c":-61,"g":-270,"s":"r","o":"g","n":"d"},
{"i":93,"h":-2.65,"m":-1.05,"k":82.2,"c":-61,"g":-246,"s":"r","o":"g","n":"d"},
{"i":94,"h":-2.25,"m":-0.8,"k":82.9,"c":0,"g":-101,"s":"r","o":"g","n":"d"},
{"i":95,"h":-2.05,"m":-0.9,"k":85.25,"c":0,"g":-84,"s":"r","o":"g","n":"d"},
{"i":96,"h":-2.65,"m":-1.75,"k":84.5,"c":-61,"g":-148,"s":"r","o":"g","n":"d"},
{"i":97,"h":-2.55,"m":-1.95,"k":83.05,"c":-52,"g":-110,"s":"r","o":"g","n":"d"},
{"i":98,"h":-2.05,"m":-1.75,"k":83.05,"c":-23,"g":-67,"s":"g","o":"g","n":"d"},
{"i":99,"h":-1.05,"m":-1.05,"k":86.85,"c":41,"g":14,"s":"g","o":"r","n":"c"},
{"i":100,"h":-0.45,"m":-0.55,"k":89.0,"c":20,"g":6,"s":"g","o":"y","n":"c"},
{"i":101,"h":0,"m":0.25,"k":91.95,"c":70,"g":70,"s":"g","o":"g","n":"c"},
{"i":102,"h":0.6,"m":0.75,"k":93.05,"c":70,"g":70,"s":"g","o":"g","n":"c"},
{"i":103,"h":0.85,"m":1.35,"k":94.4,"c":78,"g":93,"s":"g","o":"g","n":"c"},
{"i":104,"h":1.0,"m":1.45,"k":93.9,"c":61,"g":61,"s":"g","o":"g","n":"c"},
{"i":105,"h":1.1,"m":1.95,"k":94.65,"c":93,"g":101,"s":"g","o":"g","n":"c"},
{"i":106,"h":1.25,"m":2.25,"k":94.25,"c":84,"g":101,"s":"g","o":"g","n":"c"},
{"i":107,"h":1.5,"m":2.35,"k":95.5,"c":84,"g":93,"s":"g","o":"g","n":"c"},
{"i":108,"h":1.5,"m":2.6,"k":95.5,"c":93,"g":101,"s":"g","o":"g","n":"c"},
{"i":109,"h":1.6,"m":2.95,"k":97.1,"c":101,"g":122,"s":"g","o":"g","n":"c"},
{"i":110,"h":1.95,"m":3.55,"k":98.15,"c":133,"g":136,"s":"g","o":"g","n":"c"},
{"i":111,"h":2.05,"m":3.9,"k":98.55,"c":130,"g":119,"s":"g","o":"g","n":"c"},
{"i":112,"h":2.25,"m":4.15,"k":98.8,"c":130,"g":116,"s":"g","o":"g","n":"c"},
{"i":113,"h":2.15,"m":4.3,"k":98.3,"c":119,"g":110,"s":"r","o":"g","n":"c"},
{"i":114,"h":2.35,"m":4.85,"k":99.0,"c":159,"g":148,"s":"g","o":"g","n":"c"},
{"i":115,"h":2.65,"m":5.3,"k":98.8,"c":186,"g":168,"s":"g","o":"g","n":"c"},
{"i":116,"h":2.6,"m":5.6,"k":99.0,"c":177,"g":142,"s":"r","o":"g","n":"c"},
{"i":117,"h":2.45,"m":5.75,"k":98.65,"c":168,"g":122,"s":"r","o":"g","n":"c"},
{"i":118,"h":2.45,"m":6.1,"k":98.3,"c":186,"g":136,"s":"r","o":"g","n":"c"},
{"i":119,"h":2.4,"m":6.45,"k":98.3,"c":177,"g":122,"s":"r","o":"g","n":"c"},
{"i":120,"h":2.3,"m":6.5,"k":98.3,"c":168,"g":107,"s":"r","o":"g","n":"c"},
{"i":121,"h":2.1,"m":6.6,"k":98.3,"c":177,"g":119,"s":"r","o":"g","n":"c"},
{"i":122,"h":1.8,"m":6.6,"k":98.3,"c":168,"g":107,"s":"r","o":"g","n":"c"},
{"i":123,"h":1.75,"m":6.9,"k":98.65,"c":168,"g":99,"s":"r","o":"g","n":"c"},
{"i":124,"h":1.8,"m":7.2,"k":99.15,"c":194,"g":122,"s":"g","o":"g","n":"c"},
{"i":125,"h":1.8,"m":7.3,"k":99.5,"c":194,"g":122,"s":"g","o":"g","n":"c"},
{"i":126,"h":1.6,"m":7.4,"k":99.6,"c":177,"g":122,"s":"r","o":"g","n":"c"},
{"i":127,"h":1.35,"m":7.05,"k":98.65,"c":159,"g":84,"s":"r","o":"g","n":"c"},
{"i":128,"h":1.05,"m":6.85,"k":97.7,"c":156,"g":78,"s":"r","o":"g","n":"c"},
{"i":129,"c":150,"g":80,"s":"r","o":"g","n":"c"}]
},
"vconcat":[
{"width":1556,"height":610,"resolve":{"scale":{"color":"independent","shape":"independent"}},
"encoding":{"x":{"field":"i","type":"quantitative","title":null,"scale":{"domain":[-0.028,129.64],"nice":false,"zero":false,"padding":0},"axis":{"grid":false,"labels":false,"ticks":false,"domain":false,"title":null,"values":[7,27,49,71,91,114]}}},
"layer":[
{"data":{"name":"bands"},"mark":{"type":"rect","color":"#D3D3D3"},"encoding":{"x2":{"field":"i2"}}},
{"data":{"name":"months"},"mark":{"type":"rule","color":"#E2E2E2","strokeWidth":1}},
{"data":{"values":[{"i":-0.028,"i2":129.64,"v":265},{"i":-0.028,"i2":129.64,"v":280},{"i":-0.028,"i2":129.64,"v":295},{"i":-0.028,"i2":129.64,"v":310}]},"mark":{"type":"rule","color":"#E2E2E2","strokeWidth":1.3},"encoding":{"x2":{"field":"i2"},"y":{"field":"v","type":"quantitative","title":null,"scale":{"domain":[260.3,322.97],"nice":false,"zero":false},"axis":{"orient":"right","title":null,"grid":false,"values":[265,270,275,280,285,290,295,300,305,310,315],"format":".2f","domainColor":"black","domainWidth":1.5,"tickColor":"black","tickSize":7,"labelColor":"#1f3a6f","labelFontSize":11,"labelPadding":1}}}},
{"data":{"name":"candles"},"mark":{"type":"line","color":"#FF0000","strokeWidth":3,"clip":true},"encoding":{"y":{"field":"u","type":"quantitative","title":null}}},
{"data":{"name":"candles"},"mark":{"type":"line","color":"#008000","strokeWidth":3,"clip":true},"encoding":{"y":{"field":"d","type":"quantitative","title":null}}},
{"data":{"name":"ma"},"mark":{"type":"line","color":"black","strokeWidth":2,"strokeDash":[6,2,2,2],"clip":true},"encoding":{"y":{"field":"v","type":"quantitative","title":null}}},
{"data":{"name":"candles"},"mark":{"type":"rule","color":"black","strokeWidth":1,"clip":true},"encoding":{"y":{"field":"h","type":"quantitative","title":null},"y2":{"field":"l"}}},
{"data":{"name":"candles"},"mark":{"type":"bar","size":8.5,"orient":"vertical","clip":true,"strokeWidth":1},"encoding":{"y":{"field":"t","type":"quantitative","title":null},"y2":{"field":"b"},"color":{"field":"c","type":"nominal","legend":null,"scale":{"domain":["r","g","y","k"],"range":["#FF0000","#008000","#FFD700","#000000"]}},"stroke":{"field":"e","type":"nominal","legend":null,"scale":{"domain":["y","n"],"range":["#000000","transparent"]}}}},
{"data":{"name":"ema"},"mark":{"type":"line","strokeWidth":3,"clip":true},"encoding":{"y":{"field":"v","type":"quantitative","title":null},"detail":{"field":"s"},"color":{"field":"t","type":"nominal","legend":null,"scale":{"domain":["up","down"],"range":["#32CD32","#FF0000"]}}}},
{"data":{"name":"arrows"},"mark":{"type":"bar","size":4.5,"orient":"vertical","stroke":"#222222","strokeWidth":1},"encoding":{"y":{"field":"tail","type":"quantitative","title":null},"y2":{"field":"head"},"color":{"field":"dir","type":"nominal","legend":null,"scale":{"domain":["down","up"],"range":["#E80000","#00FF00"]}}}},
{"data":{"name":"arrows"},"mark":{"type":"point","filled":true,"size":110,"stroke":"#222222","strokeWidth":0.8,"opacity":1},"encoding":{"y":{"field":"head","type":"quantitative","title":null},"shape":{"field":"dir","type":"nominal","legend":null,"scale":{"domain":["down","up"],"range":["triangle-down","triangle-up"]}},"color":{"field":"dir","type":"nominal","legend":null,"scale":{"domain":["down","up"],"range":["#E80000","#00FF00"]}}}},
{"data":{"values":[{"i":51,"v":281.42},{"i":59.1,"v":281.21}]},"mark":{"type":"line","color":"#0000FF","strokeWidth":1},"encoding":{"y":{"field":"v","type":"quantitative","title":null}}},
{"data":{"values":[{"i":3,"v":286.45,"label":"S"}]},"mark":{"type":"text","color":"#FF0000","fontSize":18,"font":"Liberation Sans"},"encoding":{"y":{"field":"v","type":"quantitative","title":null},"text":{"field":"label"}}},
{"data":{"values":[{"i":101,"v":295.86,"label":"B"}]},"mark":{"type":"text","color":"#008000","fontSize":18,"font":"Liberation Sans"},"encoding":{"y":{"field":"v","type":"quantitative","title":null},"text":{"field":"label"}}},
{"data":{"values":[{"i":90.06,"v":310.34,"label":"SPX - SPY"}]},"mark":{"type":"text","color":"black","fontSize":53,"font":"Liberation Serif"},"encoding":{"y":{"field":"v","type":"quantitative","title":null},"text":{"field":"label"}}},
{"data":{"values":[{"i":83,"v":283.85,"label":"Alphahorn Proprietary Swing System"}]},"mark":{"type":"text","color":"#000080","fontSize":27,"font":"Liberation Serif"},"encoding":{"y":{"field":"v","type":"quantitative","title":null},"text":{"field":"label"}}},
{"data":{"values":[{"i":79.1,"v":280.15,"label":"www.alphahorn.com"}]},"mark":{"type":"text","color":"#000080","fontSize":26,"fontStyle":"italic","font":"Liberation Serif"},"encoding":{"y":{"field":"v","type":"quantitative","title":null},"text":{"field":"label"}}},
{"data":{"values":[{"i":-0.028,"i2":134.4,"v":260.3}]},"mark":{"type":"rule","color":"black","strokeWidth":1.5},"encoding":{"x2":{"field":"i2"},"y":{"field":"v","type":"quantitative","title":null}}},
{"data":{"name":"tags"},"transform":[{"filter":"datum.p=='a'"}],"mark":{"type":"point","filled":true,"size":4,"stroke":"black","strokeWidth":0.7,"opacity":1},"encoding":{"y":{"field":"v","type":"quantitative","title":null},"shape":{"field":"w","type":"nominal","legend":null,"scale":{"domain":["4","5","6"],"range":["M0,0L6,-6.5H28V6.5H6Z","M0,0L6,-6.5H35V6.5H6Z","M0,0L6,-6.5H42V6.5H6Z"]}},"color":{"field":"kind","type":"nominal","legend":null,"scale":{"domain":["red","black","lime","green"],"range":["#FF0000","#000000","#32CD32","#008000"]}}}},
{"data":{"name":"tags"},"transform":[{"filter":"datum.p=='a'"}],"mark":{"type":"text","align":"left","fontSize":11.5,"font":"Liberation Sans"},"encoding":{"x":{"field":"tx","type":"quantitative","title":null},"y":{"field":"v","type":"quantitative","title":null},"text":{"field":"label"},"color":{"field":"kind","type":"nominal","legend":null,"scale":{"domain":["red","black","lime","green"],"range":["#FFFFFF","#FFFFFF","#000000","#FFFFFF"]}}}}
]},
{"width":1556,"height":101,"resolve":{"scale":{"color":"independent","shape":"independent"}},
"encoding":{"x":{"field":"i","type":"quantitative","title":null,"scale":{"domain":[-0.028,129.64],"nice":false,"zero":false},"axis":{"grid":false,"labels":false,"ticks":false,"domain":false,"title":null,"values":[7,27,49,71,91,114]}}},
"layer":[
{"data":{"name":"months"},"mark":{"type":"rule","color":"#E2E2E2","strokeWidth":1}},
{"data":{"values":[{"i":-0.028,"i2":129.64,"v":-5}]},"mark":{"type":"rule","color":"#E2E2E2","strokeWidth":1.3},"encoding":{"x2":{"field":"i2"},"y":{"field":"v","type":"quantitative","title":null,"scale":{"domain":[-6.38,8.85],"nice":false,"zero":false},"axis":{"orient":"right","title":null,"grid":false,"values":[-5,0,5],"labelExpr":"''+datum.value","domainColor":"black","domainWidth":1.5,"tickColor":"black","tickSize":7,"labelColor":"#222","labelFontSize":11,"labelPadding":1}}}},
{"data":{"values":[{"i":-0.028,"i2":129.64,"v":0}]},"mark":{"type":"rule","color":"#AAAAAA","strokeWidth":1.2},"encoding":{"x2":{"field":"i2"},"y":{"field":"v","type":"quantitative","title":null}}},
{"data":{"name":"osc"},"mark":{"type":"rule","color":"black","strokeWidth":2},"encoding":{"y":{"field":"h","type":"quantitative","title":null},"y2":{"datum":0}}},
{"data":{"name":"sig"},"mark":{"type":"line","color":"#FF0000","strokeWidth":2,"clip":true},"encoding":{"y":{"field":"v","type":"quantitative","title":null}}},
{"data":{"name":"osc"},"mark":{"type":"line","color":"#008000","strokeWidth":2,"clip":true},"encoding":{"y":{"field":"m","type":"quantitative","title":null}}},
{"data":{"values":[{"i":-0.028,"i2":134.4,"v":-6.38}]},"mark":{"type":"rule","color":"black","strokeWidth":1.5},"encoding":{"x2":{"field":"i2"},"y":{"field":"v","type":"quantitative","title":null}}},
{"data":{"name":"tags"},"transform":[{"filter":"datum.p=='b1'"}],"mark":{"type":"point","filled":true,"size":4,"stroke":"black","strokeWidth":0.7,"opacity":1},"encoding":{"y":{"field":"v","type":"quantitative","title":null},"shape":{"field":"w","type":"nominal","legend":null,"scale":{"domain":["4","5","6"],"range":["M0,0L6,-6.5H28V6.5H6Z","M0,0L6,-6.5H35V6.5H6Z","M0,0L6,-6.5H42V6.5H6Z"]}},"color":{"field":"kind","type":"nominal","legend":null,"scale":{"domain":["red","black","lime","green"],"range":["#FF0000","#000000","#32CD32","#008000"]}}}},
{"data":{"name":"tags"},"transform":[{"filter":"datum.p=='b1'"}],"mark":{"type":"text","align":"left","fontSize":11.5,"font":"Liberation Sans"},"encoding":{"x":{"field":"tx","type":"quantitative","title":null},"y":{"field":"v","type":"quantitative","title":null},"text":{"field":"label"},"color":{"field":"kind","type":"nominal","legend":null,"scale":{"domain":["red","black","lime","green"],"range":["#FFFFFF","#FFFFFF","#000000","#FFFFFF"]}}}},
{"data":{"name":"tags"},"transform":[{"filter":"datum.p=='b2'"}],"mark":{"type":"point","filled":true,"size":4,"stroke":"black","strokeWidth":0.7,"opacity":1},"encoding":{"y":{"field":"v","type":"quantitative","title":null},"shape":{"field":"w","type":"nominal","legend":null,"scale":{"domain":["4","5","6"],"range":["M0,0L6,-6.5H28V6.5H6Z","M0,0L6,-6.5H35V6.5H6Z","M0,0L6,-6.5H42V6.5H6Z"]}},"color":{"field":"kind","type":"nominal","legend":null,"scale":{"domain":["red","black","lime","green"],"range":["#FF0000","#000000","#32CD32","#008000"]}}}},
{"data":{"name":"tags"},"transform":[{"filter":"datum.p=='b2'"}],"mark":{"type":"text","align":"left","fontSize":11.5,"font":"Liberation Sans"},"encoding":{"x":{"field":"tx","type":"quantitative","title":null},"y":{"field":"v","type":"quantitative","title":null},"text":{"field":"label"},"color":{"field":"kind","type":"nominal","legend":null,"scale":{"domain":["red","black","lime","green"],"range":["#FFFFFF","#FFFFFF","#000000","#FFFFFF"]}}}}
]},
{"width":1556,"height":102,"resolve":{"scale":{"color":"independent","shape":"independent"}},
"encoding":{"x":{"field":"i","type":"quantitative","title":null,"scale":{"domain":[-0.028,129.64],"nice":false,"zero":false},"axis":{"grid":false,"labels":false,"ticks":false,"domain":false,"title":null,"values":[7,27,49,71,91,114]}}},
"layer":[
{"data":{"name":"months"},"mark":{"type":"rule","color":"#E2E2E2","strokeWidth":1}},
{"data":{"values":[{"i":-0.028,"i2":129.64,"v":100},{"i":-0.028,"i2":129.64,"v":70}]},"mark":{"type":"rule","color":"#E2E2E2","strokeWidth":1.3},"encoding":{"x2":{"field":"i2"},"y":{"field":"v","type":"quantitative","title":null,"scale":{"domain":[66,103.2],"nice":false,"zero":false},"axis":{"orient":"right","title":null,"grid":false,"values":[70,80,90,100],"domainColor":"black","domainWidth":1.5,"tickColor":"black","tickSize":7,"labelColor":"#222","labelFontSize":11,"labelPadding":1}}}},
{"data":{"values":[{"i":-0.028,"i2":129.64,"v":80}]},"mark":{"type":"rule","color":"#AAAAAA","strokeWidth":1.2},"encoding":{"x2":{"field":"i2"},"y":{"field":"v","type":"quantitative","title":null}}},
{"data":{"name":"slow"},"mark":{"type":"line","color":"#FF0000","strokeWidth":2,"clip":true},"encoding":{"y":{"field":"v","type":"quantitative","title":null}}},
{"data":{"name":"osc"},"mark":{"type":"line","color":"#008000","strokeWidth":2,"clip":true},"encoding":{"y":{"field":"k","type":"quantitative","title":null}}},
{"data":{"values":[{"i":-0.028,"i2":134.4,"v":66}]},"mark":{"type":"rule","color":"black","strokeWidth":1.5},"encoding":{"x2":{"field":"i2"},"y":{"field":"v","type":"quantitative","title":null}}},
{"data":{"name":"tags"},"transform":[{"filter":"datum.p=='c'"}],"mark":{"type":"point","filled":true,"size":4,"stroke":"black","strokeWidth":0.7,"opacity":1},"encoding":{"y":{"field":"v","type":"quantitative","title":null},"shape":{"field":"w","type":"nominal","legend":null,"scale":{"domain":["4","5","6"],"range":["M0,0L6,-6.5H28V6.5H6Z","M0,0L6,-6.5H35V6.5H6Z","M0,0L6,-6.5H42V6.5H6Z"]}},"color":{"field":"kind","type":"nominal","legend":null,"scale":{"domain":["red","black","lime","green"],"range":["#FF0000","#000000","#32CD32","#008000"]}}}},
{"data":{"name":"tags"},"transform":[{"filter":"datum.p=='c'"}],"mark":{"type":"text","align":"left","fontSize":11.5,"font":"Liberation Sans"},"encoding":{"x":{"field":"tx","type":"quantitative","title":null},"y":{"field":"v","type":"quantitative","title":null},"text":{"field":"label"},"color":{"field":"kind","type":"nominal","legend":null,"scale":{"domain":["red","black","lime","green"],"range":["#FFFFFF","#FFFFFF","#000000","#FFFFFF"]}}}}
]},
{"width":1556,"height":91,"resolve":{"scale":{"color":"independent","shape":"independent"}},
"encoding":{"x":{"field":"i","type":"quantitative","title":null,"scale":{"domain":[-0.028,129.64],"nice":false,"zero":false},"axis":{"grid":false,"labels":true,"ticks":true,"tickColor":"black","tickSize":5,"domain":true,"domainColor":"black","domainWidth":1.5,"title":null,"values":[7,27,49,71,91,114],"labelColor":"#222","labelFontSize":11,"labelPadding":0,"labelOverlap":false,"labelFlush":false,"labelExpr":"datum.value==7?'Jun':datum.value==27?'Jul':datum.value==49?'Aug':datum.value==71?'Sep':datum.value==91?'Oct':'Nov'"}}},
"layer":[
{"data":{"name":"months"},"mark":{"type":"rule","color":"#E2E2E2","strokeWidth":1}},
{"data":{"values":[{"i":-0.028,"i2":129.64,"v":-400}]},"mark":{"type":"rule","color":"#E2E2E2","strokeWidth":1.3},"encoding":{"x2":{"field":"i2"},"y":{"field":"v","type":"quantitative","title":null,"scale":{"domain":[-452,339],"nice":false,"zero":false},"axis":{"orient":"right","title":null,"grid":false,"values":[-400,-200,0,200],"labelExpr":"''+datum.value","domainColor":"black","domainWidth":1.5,"tickColor":"black","tickSize":7,"labelColor":"#222","labelFontSize":11,"labelPadding":1}}}},
{"data":{"name":"osc"},"mark":{"type":"tick","orient":"horizontal","size":10.5,"thickness":2,"opacity":1,"clip":true},"encoding":{"y":{"datum":220},"color":{"field":"o","type":"nominal","legend":null,"scale":{"domain":["g","r","y"],"range":["#32CD32","#FF0000","#FFFF00"]}}}},
{"data":{"name":"osc"},"mark":{"type":"tick","orient":"horizontal","size":10.5,"thickness":2,"opacity":1,"clip":true},"encoding":{"y":{"datum":-186},"color":{"field":"o","type":"nominal","legend":null,"scale":{"domain":["g","r","y"],"range":["#32CD32","#FF0000","#FFFF00"]}}}},
{"data":{"name":"osc"},"transform":[{"filter":"isValid(datum.n)"}],"mark":{"type":"tick","orient":"horizontal","size":10.5,"thickness":2,"opacity":1,"clip":true},"encoding":{"y":{"datum":115},"color":{"field":"n","type":"nominal","legend":null,"scale":{"domain":["c","d"],"range":["#00FFFF","#800000"]}}}},
{"data":{"name":"osc"},"transform":[{"filter":"isValid(datum.n)"}],"mark":{"type":"tick","orient":"horizontal","size":10.5,"thickness":2,"opacity":1,"clip":true},"encoding":{"y":{"datum":-82},"color":{"field":"n","type":"nominal","legend":null,"scale":{"domain":["c","d"],"range":["#00FFFF","#800000"]}}}},
{"data":{"name":"osc"},"mark":{"type":"rule","strokeWidth":1},"encoding":{"y":{"field":"c","type":"quantitative","title":null},"y2":{"datum":0},"color":{"condition":{"test":"datum.c>0","value":"#0000FF"},"value":"#888888"}}},
{"data":{"name":"osc"},"mark":{"type":"line","color":"#2E8B2E","strokeWidth":1,"clip":true},"encoding":{"y":{"field":"g","type":"quantitative","title":null}}},
{"data":{"name":"osc"},"mark":{"type":"line","color":"#222222","strokeWidth":1.2,"clip":true},"encoding":{"y":{"field":"c","type":"quantitative","title":null}}},
{"data":{"name":"osc"},"mark":{"type":"square","size":30,"opacity":1,"clip":true},"encoding":{"y":{"datum":0},"color":{"field":"s","type":"nominal","legend":null,"scale":{"domain":["g","r"],"range":["#008000","#FF0000"]}}}},
{"data":{"name":"osc"},"mark":{"type":"point","filled":true,"size":4,"color":"white","opacity":1,"clip":true},"encoding":{"y":{"datum":0},"shape":{"field":"s","type":"nominal","legend":null,"scale":{"domain":["g","r"],"range":["M-2,-0.6H-0.6V-2H0.6V-0.6H2V0.6H0.6V2H-0.6V0.6H-2Z","M-2,-0.6H2V0.6H-2Z"]}}}},
{"data":{"values":[{"i":45.7,"v":-597},{"i":70,"v":-597}]},"mark":{"type":"line","color":"#555555","strokeWidth":1},"encoding":{"y":{"field":"v","type":"quantitative","title":null}}},
{"data":{"values":[{"i":45.7,"v":-597,"v2":-625},{"i":70,"v":-597,"v2":-625}]},"mark":{"type":"rule","color":"#555555","strokeWidth":1},"encoding":{"y":{"field":"v","type":"quantitative","title":null},"y2":{"field":"v2"}}},
{"data":{"name":"tags"},"transform":[{"filter":"datum.p=='d1'"}],"mark":{"type":"point","filled":true,"size":4,"stroke":"black","strokeWidth":0.7,"opacity":1},"encoding":{"y":{"field":"v","type":"quantitative","title":null},"shape":{"field":"w","type":"nominal","legend":null,"scale":{"domain":["4","5","6"],"range":["M0,0L6,-6.5H28V6.5H6Z","M0,0L6,-6.5H35V6.5H6Z","M0,0L6,-6.5H42V6.5H6Z"]}},"color":{"field":"kind","type":"nominal","legend":null,"scale":{"domain":["red","black","lime","green"],"range":["#FF0000","#000000","#32CD32","#008000"]}}}},
{"data":{"name":"tags"},"transform":[{"filter":"datum.p=='d1'"}],"mark":{"type":"text","align":"left","fontSize":11.5,"font":"Liberation Sans"},"encoding":{"x":{"field":"tx","type":"quantitative","title":null},"y":{"field":"v","type":"quantitative","title":null},"text":{"field":"label"},"color":{"field":"kind","type":"nominal","legend":null,"scale":{"domain":["red","black","lime","green"],"range":["#FFFFFF","#FFFFFF","#000000","#FFFFFF"]}}}},
{"data":{"name":"tags"},"transform":[{"filter":"datum.p=='d2'"}],"mark":{"type":"point","filled":true,"size":4,"stroke":"black","strokeWidth":0.7,"opacity":1},"encoding":{"y":{"field":"v","type":"quantitative","title":null},"shape":{"field":"w","type":"nominal","legend":null,"scale":{"domain":["4","5","6"],"range":["M0,0L6,-6.5H28V6.5H6Z","M0,0L6,-6.5H35V6.5H6Z","M0,0L6,-6.5H42V6.5H6Z"]}},"color":{"field":"kind","type":"nominal","legend":null,"scale":{"domain":["red","black","lime","green"],"range":["#FF0000","#000000","#32CD32","#008000"]}}}},
{"data":{"name":"tags"},"transform":[{"filter":"datum.p=='d2'"}],"mark":{"type":"text","align":"left","fontSize":11.5,"font":"Liberation Sans"},"encoding":{"x":{"field":"tx","type":"quantitative","title":null},"y":{"field":"v","type":"quantitative","title":null},"text":{"field":"label"},"color":{"field":"kind","type":"nominal","legend":null,"scale":{"domain":["red","black","lime","green"],"range":["#FFFFFF","#FFFFFF","#000000","#FFFFFF"]}}}}
]}
]}
